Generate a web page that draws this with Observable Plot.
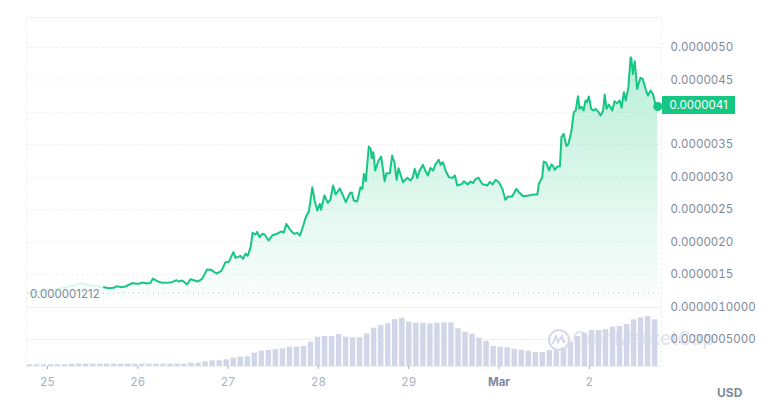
<!DOCTYPE html>
<html><head><meta charset="utf-8">
<script src="https://cdn.jsdelivr.net/npm/d3@7"></script>
<script src="https://cdn.jsdelivr.net/npm/@observablehq/plot@0.6"></script>
<style>
html,body{margin:0;padding:0;background:#fff;overflow:hidden}
#wrap{position:relative;width:768px;height:412px;font-family:Inter,sans-serif}
svg{display:block}
#tag{position:absolute;left:662px;top:96px;width:73px;height:18px;background:#16c784;color:#fff;font:11.5px/18px Inter,sans-serif;text-align:center}
#usd{position:absolute;left:717px;top:385px;color:#808a9d;font:bold 12px Inter,sans-serif}
#low{position:absolute;left:30px;top:287px;color:#808a9d;font:11.5px Inter,sans-serif;background:none}
#logo{position:absolute;left:547px;top:328px}
</style></head><body><div id="wrap"></div>
<script>
// all prices are in units of 1e-7 USD, hours count from 25 Feb 00:00 UTC
const fadedHours  = [-5.3,-3,0,4,7,8.5,11,14.9];
const fadedPrices = [12.12,12.3,12.5,12.9,13.3,13.6,13.4,13.02];
const hours = [15,16.3,17.6,18.5,19.4,20.7,22.5,24.3,25.2,26.5,27.4,28,29.2,30.5,32.3,33.1,34.3,34.9,35.8,36.4,37.1,38,39.1,40,41.1,42.4,43.5,44.9,46.2,46.9,47.3,48.2,49.4,50,51.3,52,52.6,53.2,54,54.5,55.3,55.7,56.4,57.1,57.7,58.8,59.7,61,62.1,62.8,63.5,64.3,65.5,66.4,67.1,68,68.6,69.5,70.4,71,71.7,72.4,72.7,73.6,74.5,75.2,75.9,76.6,77.7,78.8,79.3,80.4,80.9,81.4,82.3,83.2,83.7,84.1,84.6,85.4,85.9,86.2,86.6,87.1,87.9,88.7,89.6,90.1,91,91.6,92.2,92.8,93.3,94.5,95.6,96.5,97.1,97.6,98.3,99,99.8,100.4,101.1,101.8,102.5,103.2,104,104.5,105.1,105.8,106.7,107.6,108.3,108.9,110.2,110.7,111.7,112.4,113.1,113.8,114.6,115.5,116.9,117.6,118.3,119.1,120,120.9,121.7,122.4,123.5,124.6,125.3,126.4,127.9,129.3,130.2,130.6,131.5,131.9,132.6,133.3,133.9,134.4,134.8,135.5,136.2,136.6,137.2,137.9,138.4,139.2,139.9,140.4,141,141.4,141.9,142.5,143,143.4,143.9,144.5,145.2,145.7,146.5,147,147.7,148.1,148.6,149.2,150.1,150.7,151.4,152.1,152.6,153.2,153.7,154.4,155,155.2,155.6,156.1,156.7,157.6,158.2,159.1,159.6,160.3,160.9,161.6,162.2];
const prices = [13.02,12.86,12.91,13.17,13.02,13.12,13.63,13.53,13.74,13.58,13.68,14.35,13.94,13.68,13.74,13.79,14.1,13.89,14.05,13.79,13.43,14.25,14.05,13.89,14.3,15.74,15.69,15.13,15.49,16.36,16.87,16.93,18.42,17.54,17.85,17.39,18.16,17.85,19.19,21.4,21.14,21.55,20.73,21.25,21.14,20.22,20.99,21.25,21.61,21.45,22.79,22.02,21.25,21.4,20.99,22.53,23.72,24.74,28.45,26.39,24.85,25.88,24.95,27.16,26.03,26.54,28.7,27.31,28.24,26.8,26.13,27.52,27.62,26.38,26.23,28.44,28.18,30.5,29.37,34.72,34.36,32.92,33.84,31.01,32.45,33.17,29.37,30.6,30.6,33.33,32.3,29.57,31.37,29.21,29.88,29.47,29.98,31.27,29.88,31.12,31.89,31.01,30.24,31.43,31.01,32.04,32.66,31.89,32.3,31.01,29.98,29.88,30.24,28.7,28.96,29.37,28.85,29.32,29.06,29.73,29.88,28.96,28.7,29.27,28.85,29.57,29.21,28.18,26.49,27,27,28.18,27.67,27.05,27.16,27.31,27.31,28.96,29.99,32.4,32.2,31.02,31.94,31.68,31.12,31.63,31.63,36.16,36.67,34.82,35.03,36.93,40.02,40.27,42.49,40.53,40.89,40.27,41.82,41.56,42.43,40.53,40.27,40.53,40.02,39.5,40.27,42.74,40.53,41.2,40.27,41.71,41.4,41.82,40.69,43.1,41.82,43.88,48.5,48.25,45.93,47.89,43.62,45.32,45.16,43.36,42.59,43.36,42.85,41.2,40.89];
const volumes = [1.05,1.05,1.05,1.05,1.05,1.05,1.15,1.15,1.15,1.15,1.15,1.15,1.15,1.15,1.15,1.15,1.15,1.15,1.15,1.15,1.15,1.15,1.15,1.3,1.3,1.5,1.67,1.67,1.83,2.08,2.24,2.3,2.86,3.17,3.28,3.44,3.55,3.8,3.8,3.9,4.58,5.36,5.47,5.47,5.78,5.36,5.26,5.3,5.89,6.77,7.19,7.45,8.1,8.33,7.7,7.55,7.55,7.45,7.55,7.6,7.6,6.67,6.14,5.83,5.2,4.69,3.9,3.8,3.7,3.48,3.33,3.17,2.97,2.97,3.28,3.39,3.7,4.58,5.47,5.98,6.4,6.4,6.56,6.92,7.03,7.34,8.08,8.39,8.6,8.08];
const volumeStart = -5.58, volumeStep = 1.867;
const priceTicks = [15,20,25,30,35,45,50];
const gridTicks = [15,20,25,30,35,40,45,50];
const volumeTicks = [5,10];
const dayLabels = ["25","26","27","28","29","Mar","2"];
const lowPrice = 12.12, lastPrice = "0.0000041", lowLabel = "0.000001212";

const base = Date.UTC(2024,1,25);
const at = h => new Date(base + h*3600e3);
const xDomain = [at(-5.58), at(163.2)];
const dayTicks = dayLabels.map((_, i) => at(24*i));
const series = hours.map((h,i)=>({t:at(h),p:prices[i]}));
const faded = fadedHours.map((h,i)=>({t:at(h),p:fadedPrices[i]}));
const bars = volumes.map((v,i)=>({t1:at(volumeStart+i*volumeStep),t2:at(volumeStart+(i+1)*volumeStep),v}));
const chartStyle = {fontFamily:"Inter,sans-serif",fontSize:"11.5px",background:"transparent",overflow:"visible"};
const pale = "#eff2f5", green = "#16c784", grey = "#808a9d";

const defs = () => { const d = d3.create("svg:defs");
  const g = d.append("linearGradient").attr("id","fade").attr("x1",0).attr("x2",0).attr("y1",0).attr("y2",1);
  g.append("stop").attr("offset",0).attr("stop-color",green).attr("stop-opacity",.3);
  g.append("stop").attr("offset",1).attr("stop-color",green).attr("stop-opacity",.02);
  return d.node(); };

const priceChart = Plot.plot({
  width:768,height:300,marginLeft:26,marginRight:107,marginTop:17,marginBottom:0,style:chartStyle,
  x:{type:"utc",domain:xDomain,axis:null},
  y:{domain:[10.96,54.63],axis:null},
  marks:[
    defs,
    Plot.ruleY(gridTicks,{stroke:pale,strokeDasharray:"3,2"}),
    Plot.ruleY([54.63],{stroke:pale}),
    Plot.ruleX(xDomain,{stroke:pale,strokeDasharray:"3,2"}),
    Plot.areaY([...faded,...series],{x:"t",y1:10.96,y2:"p",fill:"url(#fade)"}),
    Plot.ruleY([lowPrice],{x1:at(14.9),x2:xDomain[1],stroke:"#b8bec9",strokeDasharray:"1,4"}),
    Plot.lineY(faded.concat(series[0]),{x:"t",y:"p",stroke:green,strokeWidth:2,strokeOpacity:.12}),
    Plot.lineY(series,{x:"t",y:"p",stroke:green,strokeWidth:2}),
    Plot.dot(series.slice(-1),{x:"t",y:"p",r:4.5,fill:green}),
    Plot.axisY(priceTicks,{anchor:"right",tickSize:0,tickPadding:9,label:null,color:grey,tickFormat:d=>(d*1e-7).toFixed(7)})
  ]});

const volumeChart = Plot.plot({
  width:768,height:112,marginLeft:26,marginRight:107,marginTop:0,marginBottom:46,style:chartStyle,
  x:{type:"utc",domain:xDomain,axis:null},
  y:{domain:[0.78,11.1],axis:null},
  marks:[
    Plot.ruleY(volumeTicks,{stroke:pale}),
    Plot.ruleY([0.78],{stroke:pale}),
    Plot.ruleX(xDomain,{stroke:pale,strokeDasharray:"3,2"}),
    Plot.text(["CoinMarketCap"],{frameAnchor:"top-left",dx:546,dy:31,fontSize:19,fill:"#e3e5f0",fontWeight:500}),
    Plot.rectY(bars,{x1:"t1",x2:"t2",y:"v",fill:"#d1d6e8",insetLeft:.8,insetRight:.8,clip:true}),
    Plot.axisY(volumeTicks,{anchor:"right",tickSize:0,tickPadding:9,label:null,color:grey,tickFormat:d=>(d*1e-7).toFixed(10)}),
    Plot.axisX(dayTicks,{anchor:"bottom",tickSize:3,tickPadding:8,label:null,color:"#a6b0c3",tickFormat:(d,i)=>dayLabels[i]})
  ]});
d3.select(volumeChart).selectAll("text").filter(function(){return this.textContent==="Mar"}).attr("font-weight","bold").attr("fill",grey);

const wrap = document.getElementById("wrap");
wrap.append(priceChart,volumeChart);
wrap.insertAdjacentHTML("beforeend",`<div id="low"></div><div id="tag"></div><div id="usd">USD</div>
<svg id="logo" width="24" height="24" viewBox="0 0 24 24" fill="none" stroke="#d5dae9" stroke-width="2"><circle cx="12" cy="12" r="10"/><path d="M5.5 16 L9 8 L11 14 L15 8 L16.5 14 L18.5 13"/></svg>`);
document.getElementById("low").textContent = lowLabel;
document.getElementById("tag").textContent = lastPrice;
</script></body></html>
